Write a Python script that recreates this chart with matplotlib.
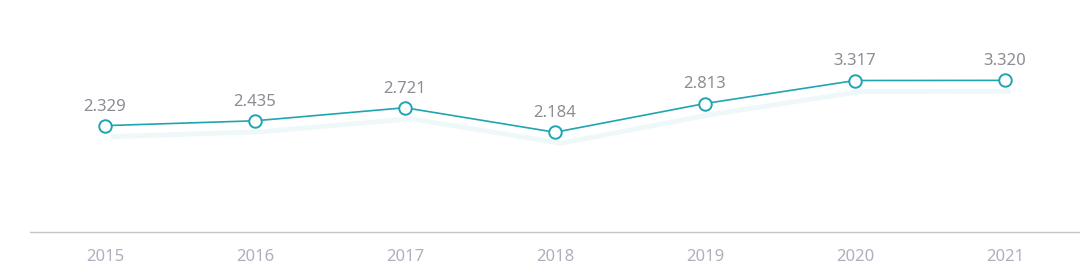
import matplotlib
matplotlib.use('Agg')
import matplotlib.pyplot as plt
import matplotlib.transforms as mtransforms

plt.rcParams['font.family'] = ['Noto Sans', 'DejaVu Sans']

# data
years = ['2015', '2016', '2017', '2018', '2019', '2020', '2021']
values = [2.329, 2.435, 2.721, 2.184, 2.813, 3.317, 3.320]
labels = ['2.329', '2.435', '2.721', '2.184', '2.813', '3.317', '3.320']

line_color = '#1fa5b2'
fig = plt.figure(figsize=(10.8, 2.76), dpi=100)
ax = fig.add_axes([30 / 1080, 44 / 276, 1050 / 1080, 232 / 276])

x = list(range(len(years)))

# soft shadow under the line, shifted down and a bit right
shadow = ax.transData + mtransforms.ScaledTranslation(6 / 100, -11 / 100, fig.dpi_scale_trans)
ax.plot(x, values, color='#eef8f9', lw=3.5, transform=shadow, zorder=2,
        solid_capstyle='butt', solid_joinstyle='round')

ax.plot(x, values, color=line_color, lw=1.2, zorder=3,
        marker='o', ms=9, mfc='white', mec=line_color, mew=1.4)

for xi, v, lab in zip(x, values, labels):
    ax.annotate(lab, (xi, v), xytext=(0, 8), textcoords='offset points',
                ha='center', va='bottom', fontsize=12, color='#8c8c94')

ax.set_xlim(-0.5, len(years) - 0.5)
ax.set_ylim(0, 5.08)
ax.set_xticks(x)
ax.set_xticklabels(years)
ax.set_yticks([])
for s in ['top', 'right', 'left']:
    ax.spines[s].set_visible(False)
ax.spines['bottom'].set_color('#c2c5cc')
ax.spines['bottom'].set_linewidth(1)
ax.tick_params(axis='x', length=0, pad=12, labelsize=12, labelcolor='#aeb1bd')

fig.savefig('out.png', dpi=100)
